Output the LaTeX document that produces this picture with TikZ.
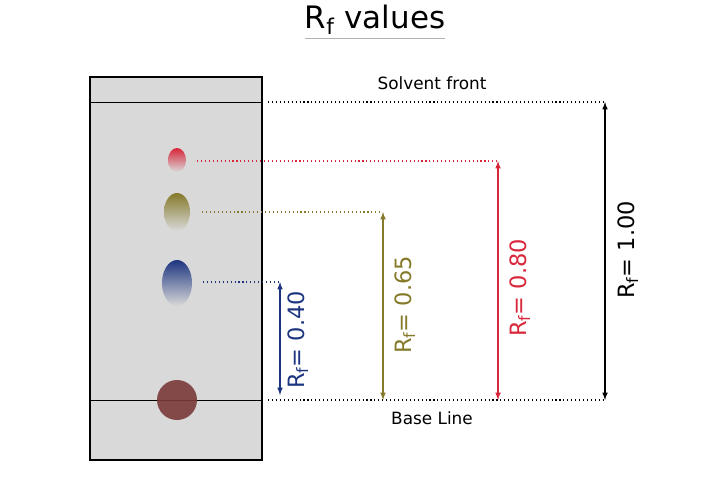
\documentclass[tikz,border=0pt]{standalone}
\usepackage{fontspec}
\setmainfont{DejaVu Sans}
\definecolor{plate}{HTML}{D9D9D9}
\definecolor{spotred}{HTML}{D8263A}
\definecolor{spotolive}{HTML}{857A2A}
\definecolor{spotblue}{HTML}{1D3580}
\definecolor{spotbrown}{HTML}{7A3A3A}
\tikzset{
  guide/.style={dotted, thick},
  rfarrow/.style={<->, >=latex, thick},
  rflabel/.style={rotate=90, font=\fontsize{16}{18}\selectfont},
}
\begin{document}
\begin{tikzpicture}[x=0.025cm, y=-0.025cm]
  \useasboundingbox (0,0) rectangle (720,480);
  % plate
  \draw[thick, fill=plate] (90,77) rectangle (262,460);
  \draw (90,102) -- (262,102);
  \draw (90,400) -- (262,400);
  % spots
  \shade[top color=spotred, bottom color=plate] (177,160) ellipse [x radius=9, y radius=12];
  \shade[top color=spotolive, bottom color=plate] (177,212) ellipse [x radius=13, y radius=19];
  \shade[top color=spotblue, bottom color=plate] (177,283) ellipse [x radius=15, y radius=23];
  \fill[spotbrown, opacity=0.9] (177,400) circle [radius=20];
  % coordinates
  \coordinate (sf) at (268,102);
  \coordinate (sfe) at (605,102);
  \coordinate (bl) at (268,400);
  \coordinate (ble) at (605,400);
  \coordinate (r1) at (197,161);
  \coordinate (r2) at (498,161);
  \coordinate (r3) at (498,400);
  \coordinate (o1) at (202,212);
  \coordinate (o2) at (383,212);
  \coordinate (o3) at (383,400);
  \coordinate (b1) at (203,282);
  \coordinate (b2) at (280,282);
  \coordinate (b3) at (280,395);
  % guides
  \draw[guide] (sf) -- (sfe);
  \draw[guide] (bl) -- (ble);
  \draw[guide, spotred] (r1) -- (r2);
  \draw[guide, spotolive] (o1) -- (o2);
  \draw[guide, spotblue] (b1) -- (b2);
  % arrows
  \draw[rfarrow] (sfe) -- (ble);
  \draw[rfarrow, spotred] (r2) -- (r3);
  \draw[rfarrow, spotolive] (o2) -- (o3);
  \draw[rfarrow, spotblue] (b2) -- (b3);
  % labels
  \node[rflabel] (l1) at (628,250) {R$_\mathrm{f}$= 1.00};
  \node[rflabel, text=spotred] (l2) at (520,288) {R$_\mathrm{f}$= 0.80};
  \node[rflabel, text=spotolive] (l3) at (405,305) {R$_\mathrm{f}$= 0.65};
  \node[rflabel, text=spotblue] (l4) at (298,340) {R$_\mathrm{f}$= 0.40};
  \node[font=\fontsize{12}{14}\selectfont] (solv) at (432,83) {Solvent front};
  \node[font=\fontsize{12}{14}\selectfont] (base) at (432,418) {Base Line};
  \node[font=\fontsize{22}{26}\selectfont] (title) at (375,20) {R$_\mathrm{f}$ values};
  \draw[gray!60] (305,38) -- (445,38);
\end{tikzpicture}
\end{document}
